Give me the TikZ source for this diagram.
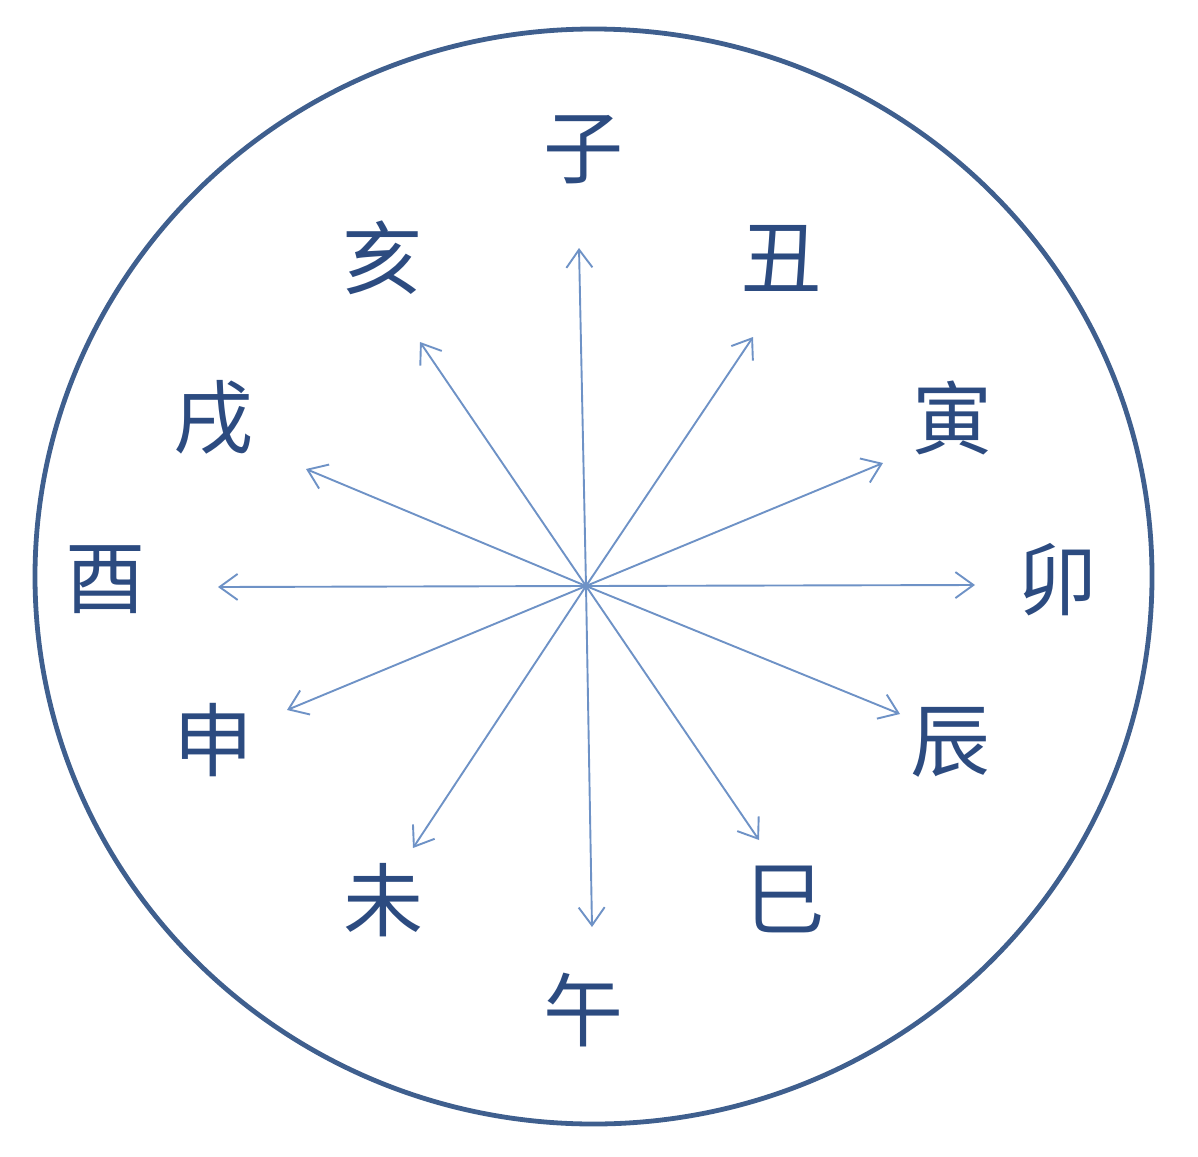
\documentclass[tikz,border=0pt]{standalone}
\usepackage{fontspec}
\newfontfamily\cjk{Noto Sans CJK SC}
\usetikzlibrary{arrows.meta}
\definecolor{rimcol}{HTML}{3F5F8E}
\definecolor{arrcol}{HTML}{6E92C6}
\definecolor{txtcol}{HTML}{2C4B80}
\tikzset{
  rim/.style={draw=rimcol, line width=4.8pt},
  ray/.style={draw=arrcol, line width=1.9pt, -{Straight Barb[length=18pt,width=26pt,line width=1.9pt]}},
  lab/.style={text=txtcol, font=\cjk\fontsize{80pt}{80pt}\selectfont, inner sep=0pt}
}
\begin{document}
\begin{tikzpicture}[x=1pt,y=-1pt]
\useasboundingbox (0,0) rectangle (1198,1156);
\draw[rim] (593.5,576.5) ellipse [x radius=558.5, y radius=547.5];
\coordinate (o) at (586,586);
\coordinate (t0) at (579,248);
\coordinate (t1) at (753,337);
\coordinate (t2) at (883,463);
\coordinate (t3) at (975,585);
\coordinate (t4) at (900,714);
\coordinate (t5) at (759,840);
\coordinate (t6) at (592,927);
\coordinate (t7) at (413,848);
\coordinate (t8) at (287,710);
\coordinate (t9) at (218,587);
\coordinate (t10) at (306,469);
\coordinate (t11) at (420,342);
\foreach \i in {0,...,11} { \draw[ray] (o) -- (t\i); }
\node[lab] (zi)   at (583,150)  {子};
\node[lab] (chou) at (781,258)  {丑};
\node[lab] (yin)  at (952,418)  {寅};
\node[lab] (mao)  at (1057,580) {卯};
\node[lab] (chen) at (950,742)  {辰};
\node[lab] (si)   at (785,899)  {巳};
\node[lab] (wu)   at (583,1010) {午};
\node[lab] (wei)  at (383,900)  {未};
\node[lab] (shen) at (213,740)  {申};
\node[lab] (you)  at (105,580)  {酉};
\node[lab] (xu)   at (213,418)  {戌};
\node[lab] (hai)  at (382,258)  {亥};
\end{tikzpicture}
\end{document}
